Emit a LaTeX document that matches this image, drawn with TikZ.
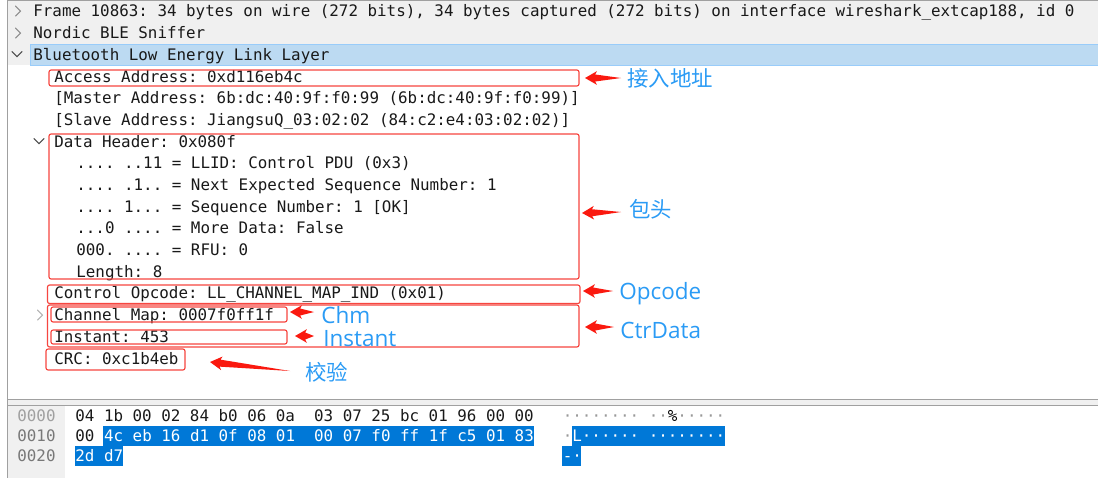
\documentclass[tikz,border=0pt]{standalone}
\usepackage{fontspec}
\usetikzlibrary{calc}
\setmonofont{DejaVu Sans Mono}
\newfontfamily\labelFont{Open Sans}
\newfontfamily\cjkFont{Noto Sans CJK SC}
\definecolor{redBoxColor}{RGB}{246,70,64}
\definecolor{arrowColor}{RGB}{250,25,15}
\definecolor{labelColor}{RGB}{42,155,245}
\definecolor{rowGray}{RGB}{240,240,240}
\definecolor{rowBlue}{RGB}{188,218,242}
\definecolor{rowEdge}{RGB}{153,204,250}
\definecolor{frameGray}{RGB}{160,160,160}
\definecolor{hexBlue}{RGB}{0,120,215}
\definecolor{offsetGray}{RGB}{120,120,120}
\tikzstyle{wire} = [x = .02cm, y = -.02cm]
\tikzstyle{fieldText} = [anchor=base west, inner sep=0pt, yshift=-.3pt, text=black!90, font=\ttfamily\fontsize{9.03}{11}\selectfont]
\tikzstyle{redBoxStyle} = [draw=redBoxColor, line width=.65pt, rounded corners=1.2pt]
\tikzstyle{noteLatin} = [anchor=west, inner sep=0pt, text=labelColor, font=\labelFont\fontsize{12.8}{15}\selectfont]
\tikzstyle{noteCjk} = [anchor=west, inner sep=0pt, text=labelColor, font=\cjkFont\fontsize{12.2}{15}\selectfont]
\tikzstyle{foldMark} = [line width=.6pt, line cap=round]
\newcommand{\fieldLine}[4]{\node [fieldText] (#1) at (#2, #3) {#4};}
\newcommand{\redBox}[5]{\draw [redBoxStyle] (#2, #3) rectangle (#4, #5) coordinate [midway] (#1);}
\newcommand{\foldClosed}[3]{\draw [foldMark, #3] (#1 - 2.5, #2 - 5) -- (#1 + 2.5, #2) -- (#1 - 2.5, #2 + 5);}
\newcommand{\foldOpen}[2]{\draw [foldMark, black!70] (#1 - 5, #2 - 2.5) -- (#1, #2 + 2.5) -- (#1 + 5, #2 - 2.5);}
\newcommand{\noteArrow}[3]{
  \coordinate (#1Tip) at (#2);
  \coordinate (#1Tail) at (#3);
  \fill [arrowColor] (#1Tip)
    -- ($(#1Tip)!6.8pt!(#1Tail)!3.9pt!90:(#1Tail)$)
    -- ($(#1Tip)!5.8pt!(#1Tail)!2pt!90:(#1Tail)$)
    -- (#1Tail)
    -- ($(#1Tip)!5.8pt!(#1Tail)!2pt!-90:(#1Tail)$)
    -- ($(#1Tip)!6.8pt!(#1Tail)!3.9pt!-90:(#1Tail)$) -- cycle;
}
\begin{document}
\begin{tikzpicture}[wire]
  \useasboundingbox (0,0) rectangle (1098,478);
  % panels
  \fill [white] (0,0) rectangle (1098,478);
  \fill [rowGray] (8,0) rectangle (1098,65);
  \fill [rowBlue] (30,44) rectangle (1098,65);
  \draw [rowEdge, line width=.5pt] (30,65) -- (30,44) -- (1098,44);
  \draw [rowEdge, line width=.5pt] (30,65) -- (1098,65);
  \fill [rowGray] (8,400) rectangle (1098,405);
  \fill [rowGray] (8,405) rectangle (65,478);
  \draw [frameGray, line width=.6pt] (7.5,0.5) -- (1098,0.5);
  \draw [frameGray, line width=.6pt] (7.5,0) -- (7.5,478);
  \draw [frameGray, line width=.6pt] (7.5,399.5) -- (1098,399.5);
  \draw [frameGray, line width=.6pt] (7.5,405.5) -- (1098,405.5);
  % tree
  \fieldLine{frameRow}{33}{16}{Frame 10863: 34 bytes on wire (272 bits), 34 bytes captured (272 bits) on interface wireshark\_extcap188, id 0}
  \fieldLine{snifferRow}{33}{38}{Nordic BLE Sniffer}
  \fieldLine{linkRow}{33}{60}{Bluetooth Low Energy Link Layer}
  \fieldLine{accessRow}{54}{82}{Access Address: 0xd116eb4c}
  \fieldLine{masterRow}{54}{103}{[Master Address: 6b:dc:40:9f:f0:99 (6b:dc:40:9f:f0:99)]}
  \fieldLine{slaveRow}{54}{125}{[Slave Address: JiangsuQ\_03:02:02 (84:c2:e4:03:02:02)]}
  \fieldLine{headerRow}{54}{147}{Data Header: 0x080f}
  \fieldLine{llidRow}{76}{168}{.... ..11 = LLID: Control PDU (0x3)}
  \fieldLine{nesnRow}{76}{190}{.... .1.. = Next Expected Sequence Number: 1}
  \fieldLine{snRow}{76}{212}{.... 1... = Sequence Number: 1 [OK]}
  \fieldLine{mdRow}{76}{233}{...0 .... = More Data: False}
  \fieldLine{rfuRow}{76}{255}{000. .... = RFU: 0}
  \fieldLine{lengthRow}{76}{277}{Length: 8}
  \fieldLine{opcodeRow}{54}{298}{Control Opcode: LL\_CHANNEL\_MAP\_IND (0x01)}
  \fieldLine{chmRow}{54}{320}{Channel Map: 0007f0ff1f}
  \fieldLine{instantRow}{54}{342}{Instant: 453}
  \fieldLine{crcRow}{54}{364}{CRC: 0xc1b4eb}
  \foldClosed{18}{11}{black!45}
  \foldClosed{18}{33}{black!45}
  \foldOpen{17}{54}
  \foldOpen{39}{141}
  \foldClosed{40}{315}{black!30}
  % hex dump
  \fill [hexBlue] (103,426) rectangle (534,446);
  \fill [hexBlue] (75,446) rectangle (123,466);
  \fill [hexBlue] (572,426) rectangle (725,446);
  \fill [hexBlue] (562,446) rectangle (581,466);
  \node [fieldText, text=offsetGray!70] (offsetA) at (17,421) {0000};
  \node [fieldText, text=offsetGray] (offsetB) at (17,441) {0010};
  \node [fieldText, text=offsetGray] (offsetC) at (17,461) {0020};
  \fieldLine{hexA}{75}{421}{04 1b 00 02 84 b0 06 0a~ 03 07 25 bc 01 96 00 00}
  \fieldLine{hexB}{75}{441}{00}
  \node [fieldText, text=white] (hexC) at (103.7,441) {4c eb 16 d1 0f 08 01~ 00 07 f0 ff 1f c5 01 83};
  \node [fieldText, text=white] (hexD) at (75,461) {2d d7};
  \node [fieldText, text=black!40] (asciiA) at (562.5,421) {\textperiodcentered\textperiodcentered\textperiodcentered\textperiodcentered\textperiodcentered\textperiodcentered\textperiodcentered\textperiodcentered{} \textperiodcentered\textperiodcentered{\color{black}\%}\textperiodcentered\textperiodcentered\textperiodcentered\textperiodcentered\textperiodcentered};
  \node [fieldText, text=black!40] (asciiB) at (562.5,441) {\textperiodcentered};
  \node [fieldText, text=white] (asciiC) at (572,441) {L\textperiodcentered\textperiodcentered\textperiodcentered\textperiodcentered\textperiodcentered\textperiodcentered{} \textperiodcentered\textperiodcentered\textperiodcentered\textperiodcentered\textperiodcentered\textperiodcentered\textperiodcentered\textperiodcentered};
  \node [fieldText, text=white] (asciiD) at (562.5,461) {-\textperiodcentered};
  % red boxes
  \redBox{accessBox}{49}{70}{579}{86}
  \redBox{headerBox}{49}{134}{579}{279}
  \redBox{opcodeBox}{47.5}{285}{580}{303.5}
  \redBox{ctrBox}{47.5}{305}{579}{347}
  \redBox{chmBox}{51}{307}{287}{322}
  \redBox{instantBox}{51}{330}{287}{344}
  \redBox{crcBox}{46}{349}{185}{370}
  % notes
  \node [noteCjk] (accessNote) at (627,78) {接入地址};
  \node [noteCjk] (headerNote) at (629,209) {包头};
  \node [noteLatin] (opcodeNote) at (619,294) {Opcode};
  \node [noteLatin] (ctrNote) at (620,330) {CtrData};
  \node [noteLatin] (chmNote) at (321,315) {Chm};
  \node [noteLatin] (instantNote) at (323,339) {Instant};
  \node [noteCjk] (crcNote) at (305,372) {校验};
  \noteArrow{access}{585,78}{621,78}
  \noteArrow{header}{582,213}{621,212}
  \noteArrow{opcode}{583,291}{613,291}
  \noteArrow{ctr}{585,327}{614,327}
  \noteArrow{chm}{290,312}{314,312}
  \noteArrow{instant}{295,336}{314,336}
  \noteArrow{crc}{210,362}{290,371}
\end{tikzpicture}
\end{document}
